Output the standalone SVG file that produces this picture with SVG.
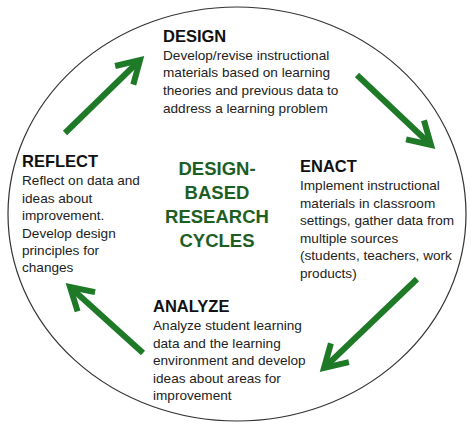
<svg xmlns="http://www.w3.org/2000/svg" width="474" height="431" viewBox="0 0 474 431">
<style>
.title{font-family:"Liberation Sans",Arial,sans-serif;font-weight:bold;font-size:16.5px;fill:#111}
.body{font-family:"Liberation Sans",Arial,sans-serif;font-size:13.6px;fill:#222}
.center{font-family:"Liberation Sans",Arial,sans-serif;font-weight:bold;font-size:18.5px;fill:#1d5e24;text-anchor:middle}
.arrow{stroke:#1f7a28;stroke-width:6;fill:none}
</style>
<defs>
<marker id="head" markerUnits="userSpaceOnUse" viewBox="-30 -20 34 40" markerWidth="34" markerHeight="40" refX="0" refY="0" orient="auto" overflow="visible">
<path d="M-22,-13 L0,0 L-22,13" stroke="#1f7a28" stroke-width="6" fill="none" stroke-linejoin="miter"/>
</marker>
</defs>
<rect width="474" height="431" fill="#fff"/>
<ellipse cx="237" cy="214" rx="229" ry="207" fill="#fff" stroke="#333" stroke-width="1.2"/>
<g id="connectors">
<line class="arrow" x1="65" y1="133" x2="140" y2="60" marker-end="url(#head)"/>
<line class="arrow" x1="357" y1="75" x2="431" y2="145" marker-end="url(#head)"/>
<line class="arrow" x1="417" y1="279" x2="324" y2="368" marker-end="url(#head)"/>
<line class="arrow" x1="143" y1="353" x2="70" y2="287" marker-end="url(#head)"/>
</g>
<g id="design">
<text class="title" x="163" y="42">DESIGN</text>
<text class="body" x="163" y="59.5">Develop/revise instructional</text>
<text class="body" x="163" y="77">materials based on learning</text>
<text class="body" x="163" y="95">theories and previous data to</text>
<text class="body" x="163" y="113">address a learning problem</text>
</g>
<g id="reflect">
<text class="title" x="22" y="167">REFLECT</text>
<text class="body" x="22" y="185">Reflect on data and</text>
<text class="body" x="22" y="202.5">ideas about</text>
<text class="body" x="22" y="220">improvement.</text>
<text class="body" x="22" y="237.5">Develop design</text>
<text class="body" x="22" y="255">principles for</text>
<text class="body" x="22" y="272">changes</text>
</g>
<g id="center">
<text class="center" x="217" y="175">DESIGN-</text>
<text class="center" x="217" y="199">BASED</text>
<text class="center" x="217" y="223">RESEARCH</text>
<text class="center" x="217" y="247">CYCLES</text>
</g>
<g id="enact">
<text class="title" x="300" y="172">ENACT</text>
<text class="body" x="300" y="190">Implement instructional</text>
<text class="body" x="300" y="207.5">materials in classroom</text>
<text class="body" x="300" y="225">settings, gather data from</text>
<text class="body" x="300" y="242.5">multiple sources</text>
<text class="body" x="300" y="260">(students, teachers, work</text>
<text class="body" x="300" y="277.5">products)</text>
</g>
<g id="analyze">
<text class="title" x="153" y="312">ANALYZE</text>
<text class="body" x="153" y="330">Analyze student learning</text>
<text class="body" x="153" y="347.5">data and the learning</text>
<text class="body" x="153" y="365">environment and develop</text>
<text class="body" x="153" y="382.5">ideas about areas for</text>
<text class="body" x="153" y="400">improvement</text>
</g>
</svg>
